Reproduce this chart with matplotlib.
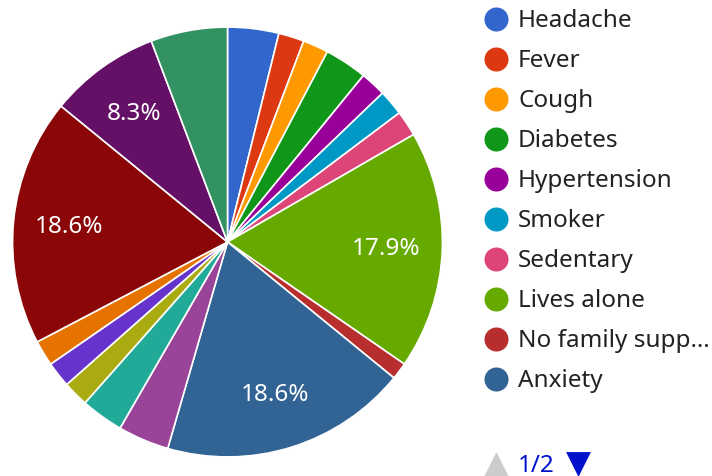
import matplotlib
matplotlib.use("Agg")
import matplotlib.pyplot as plt

plt.rcParams['font.family'] = ['Noto Sans', 'DejaVu Sans']

# slice counts, clockwise from 12 o'clock (legend page 1 shows the first 10)
labels = ["Headache", "Fever", "Cough", "Diabetes", "Hypertension", "Smoker",
          "Sedentary", "Lives alone", "No family support", "Anxiety",
          "Depression", "Insomnia", "Fatigue", "Chest pain", "Dizziness",
          "Loneliness", "Memory loss", "Obesity"]
counts = [6, 3, 3, 5, 3, 3, 3, 28, 2, 29, 6, 5, 3, 3, 3, 29, 13, 9]

colors = ["#3366cc", "#dc3912", "#ff9900", "#109618", "#990099", "#0099c6",
          "#dd4477", "#66aa00", "#b82e2e", "#316395", "#994499", "#22aa99",
          "#aaaa11", "#6633cc", "#e67300", "#8b0707", "#651067", "#329262"]

W, H = 712, 477
fig = plt.figure(figsize=(W / 100, H / 100), dpi=100)

# pie: centre (227.5, 243) px, radius 215 px
cx, cy, r = 227.5, 243, 216
ax = fig.add_axes([(cx - r) / W, (H - cy - r) / H, 2 * r / W, 2 * r / H])

ax.pie(
    counts,
    colors=colors,
    startangle=90,
    counterclock=False,
    radius=1,
    autopct=lambda p: f"{p:.1f}%" if p > 7 else "",
    pctdistance=0.74,
    textprops={"color": "white", "fontsize": 17.5},
    wedgeprops={"edgecolor": "white", "linewidth": 1.2},
)
ax.set_xlim(-1.005, 1.005)
ax.set_ylim(-1.005, 1.005)
ax.set_aspect("equal")
ax.axis("off")

# legend (page 1 of 2), drawn in pixel coordinates
lax = fig.add_axes([0, 0, 1, 1])
lax.set_xlim(0, W)
lax.set_ylim(H, 0)
lax.axis("off")

n_shown = 10
row0, step = 21, 40
for i in range(n_shown):
    y = row0 + i * step
    lax.scatter([496], [y - 1], s=24 ** 2 * 0.52, color=colors[i], marker="o", linewidths=0)
    name = labels[i] if len(labels[i]) <= 15 else labels[i][:14] + "…"
    lax.text(518, y, name, fontsize=17.5, color="#222222", va="center", ha="left")

# pager
py = 466
lax.scatter([496], [py - 1], s=320, marker="^", color="#cccccc", linewidths=0)
lax.text(518, py, "1/2", fontsize=17.5, color="#0011cc", va="center", ha="left")
lax.scatter([578], [py - 1], s=320, marker="v", color="#0011cc", linewidths=0)

fig.savefig("out.png", dpi=100)
